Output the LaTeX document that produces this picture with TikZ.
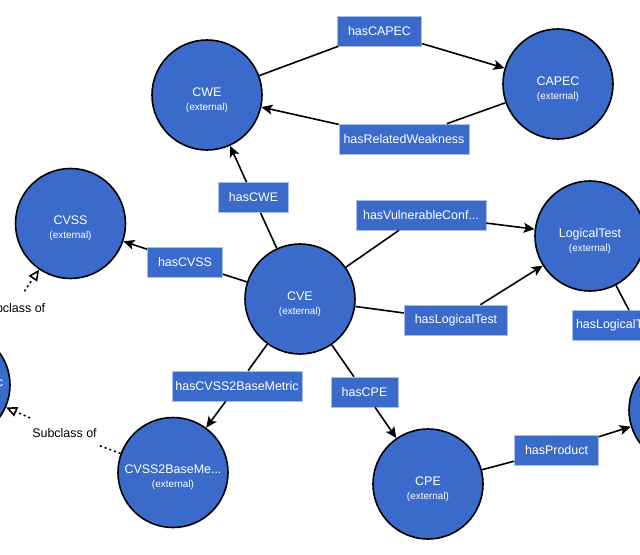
\documentclass[tikz,border=0pt]{standalone}
\usepackage{fontspec}
\setmainfont{Liberation Sans}
\usetikzlibrary{arrows.meta}
\definecolor{nodeblue}{HTML}{3A6BCB}
\definecolor{propborder}{HTML}{A9C0EE}
\newcommand{\ext}[1]{\begin{tabular}{@{}c@{}}#1\\[-0.5bp]{\fontsize{10}{12}\selectfont(external)}\end{tabular}}

\begin{document}
\begin{tikzpicture}[x=1bp, y=-1bp,
	every node/.style={font=\fontsize{12.5}{15}\selectfont},
	class/.style={circle, draw=black, line width=1.6bp, fill=nodeblue, text=white, minimum size=110bp, inner sep=0pt, text height=20bp, text depth=3.5bp},
	prop/.style={rectangle, draw=propborder, line width=0.6bp, fill=nodeblue, text=white, minimum height=30bp, inner xsep=10.5bp},
	wideprop/.style={prop, minimum width=130bp, inner xsep=0pt},
	sub/.style={inner xsep=2bp, inner ysep=12bp},
	rel/.style={line width=1.6bp},
	relarrow/.style={rel, -{Stealth[length=11bp, width=10bp, inset=2.5bp]}},
	subline/.style={rel, dash pattern=on 2bp off 3bp},
	subarrow/.style={subline, -{Triangle[open, length=11bp, width=10bp]}}]

\useasboundingbox (0,0) rectangle (640,555);
\clip (0,0) rectangle (640,555);

% Classes
\node[class] (cwe) at (207,95) {\ext{CWE}};
\node[class] (capec) at (558,84) {\ext{CAPEC}};
\node[class] (cvss) at (70.5,223.5) {\ext{CVSS}};
\node[class] (cve) at (300,299) {\ext{CVE}};
\node[class] (logicaltest) at (590,236) {\ext{LogicalTest}};
\node[class] (cvsstwo) at (173,472.5) {\ext{CVSS2BaseMe...}};
\node[class] (cpe) at (428,484) {\ext{CPE}};
\node[class] (cvssbase) at (-45,385) {\ext{CVSSBaseMetric}};
\node[class] (product) at (684,410) {};

% Properties
\node[prop] (hascapec) at (379.5,31) {hasCAPEC};
\node[wideprop] (hasrelated) at (404,139) {hasRelatedWeakness};
\node[prop] (hascwe) at (253.5,197.5) {hasCWE};
\node[prop] (hascvss) at (185,262) {hasCVSS};
\node[wideprop] (hasvulnconf) at (421,215) {hasVulnerableConf...};
\node[prop] (haslogicaltest) at (456,320) {hasLogicalTest};
\node[wideprop, text width=122bp, inner xsep=4bp, align=left] (haslogicaltestb) at (637,325.5) {hasLogicalTest};
\node[wideprop] (hascvsstwo) at (237,386) {hasCVSS2BaseMetric};
\node[prop] (hascpe) at (364.5,392) {hasCPE};
\node[prop] (hasproduct) at (556.5,450) {hasProduct};

% Subclass labels
\node[sub] (subone) at (13,308) {Subclass of};
\node[sub] (subtwo) at (64.5,433) {Subclass of};

% Relations
\foreach \a/\p/\b in {cwe/hascapec/capec, capec/hasrelated/cwe, cve/hascwe/cwe, cve/hascvss/cvss, cve/hasvulnconf/logicaltest, cve/haslogicaltest/logicaltest, cve/hascvsstwo/cvsstwo, cve/hascpe/cpe, cpe/hasproduct/product}
{
	\draw[rel] (\a) -- (\p);
	\draw[relarrow] (\p) -- (\b);
}
\draw[rel] (logicaltest) -- (haslogicaltestb);

% Subclass of
\draw[subline] (cvsstwo) -- (subtwo);
\draw[subarrow] (subtwo) -- (cvssbase);
\draw[subline] (cvssbase) -- (subone);
\draw[subarrow] (subone) -- (cvss);
\end{tikzpicture}
\end{document}
